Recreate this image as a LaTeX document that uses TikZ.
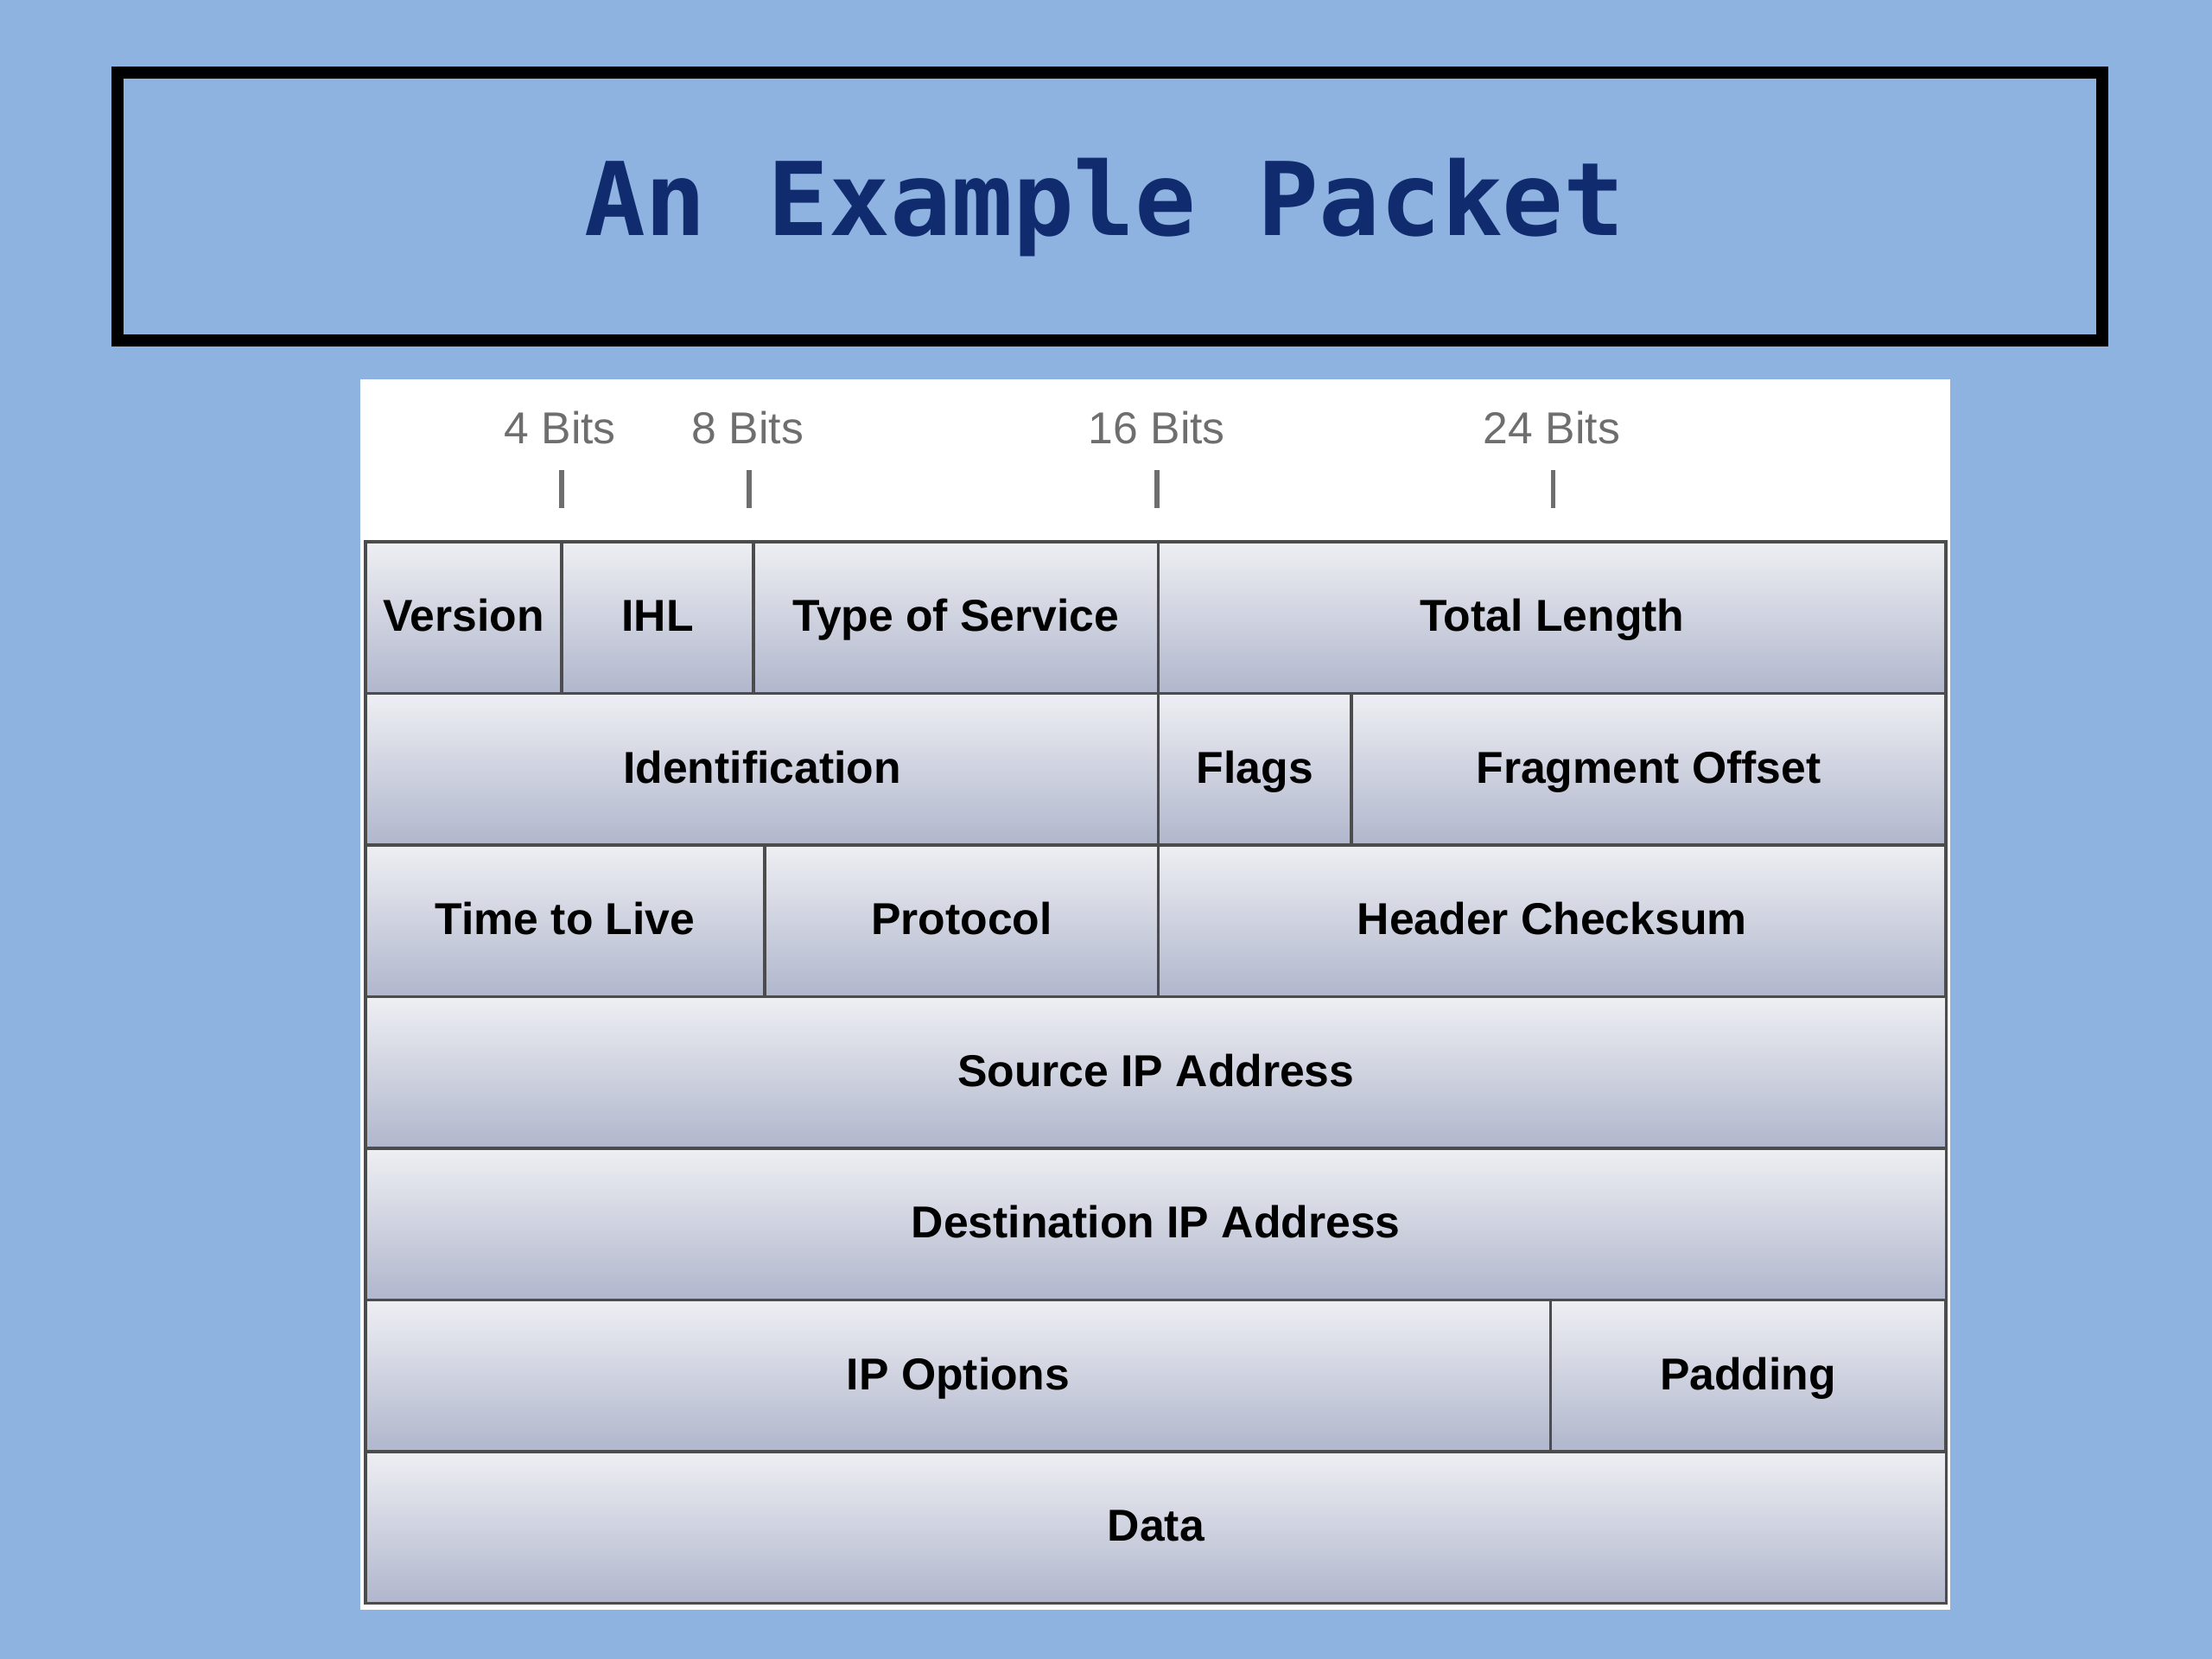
\documentclass[tikz,border=0pt]{standalone}
\usepackage{fontspec}
\setsansfont{Liberation Sans}
\setmonofont{DejaVu Sans Mono}
\usetikzlibrary{positioning}
\definecolor{slideblue}{RGB}{142,179,225}
\definecolor{titleblue}{RGB}{16,44,110}
\definecolor{celltop}{RGB}{238,239,243}
\definecolor{cellbot}{RGB}{176,182,204}
\definecolor{bitgray}{RGB}{110,110,110}
\tikzset{
  field/.style={draw=black!70, line width=0.6pt, anchor=north west, inner sep=0pt,
    top color=celltop, bottom color=cellbot, minimum height=1.075cm,
    text height=1.6ex, text depth=0.3ex,
    font=\sffamily\bfseries\fontsize{9}{11}\selectfont},
  bitlabel/.style={text=bitgray, font=\sffamily\fontsize{9}{11}\selectfont},
  tick/.style={draw=bitgray, line width=1pt}
}
\begin{document}
\begin{tikzpicture}[x=0.01cm,y=-0.01cm]
  \fill[slideblue] (0,0) rectangle (1568,1176);
  \useasboundingbox (0,0) rectangle (1568,1176);
  % title
  \node (titlebox) [draw=black, line width=2.5pt, minimum width=14.06cm, minimum height=1.9cm,
    anchor=north west] at (79,47) {};
  \node (title) [text=titleblue, font=\ttfamily\bfseries\fontsize{20.5}{24}\selectfont]
    at (783,147) {An Example Packet};
  % panel
  \node (panel) [fill=white, minimum width=11.26cm, minimum height=8.72cm, anchor=north west,
    inner sep=0pt] at (255,268) {};
  % bit markers
  \node (b4) [bitlabel] at (397,303) {4 Bits};
  \node (b8) [bitlabel] at (530,303) {8 Bits};
  \node (b16) [bitlabel] at (820,303) {16 Bits};
  \node (b24) [bitlabel] at (1100,303) {24 Bits};
  \foreach \x in {398,531,820,1101}
    \draw[tick] (\x,333) -- (\x,360);
  % row 1
  \node (ver) [field, minimum width=1.39cm] at (258,383) {Version};
  \node (ihl) [field, minimum width=1.36cm] at (397,383) {IHL};
  \node (tos) [field, minimum width=2.87cm] at (533,383) {Type of Service};
  \node (len) [field, minimum width=5.58cm] at (820,383) {Total Length};
  % row 2
  \node (ident) [field, minimum width=5.62cm] at (258,490.5) {Identification};
  \node (flags) [field, minimum width=1.37cm] at (820,490.5) {Flags};
  \node (frag) [field, minimum width=4.21cm] at (957,490.5) {Fragment Offset};
  % row 3
  \node (ttl) [field, minimum width=2.83cm] at (258,598) {Time to Live};
  \node (proto) [field, minimum width=2.79cm] at (541,598) {Protocol};
  \node (chk) [field, minimum width=5.58cm] at (820,598) {Header Checksum};
  % rows 4 to 7
  \node (src) [field, minimum width=11.2cm] at (258,705.5) {Source IP Address};
  \node (dst) [field, minimum width=11.2cm] at (258,813) {Destination IP Address};
  \node (opts) [field, minimum width=8.4cm] at (258,920.5) {IP Options};
  \node (pad) [field, minimum width=2.8cm] at (1098,920.5) {Padding};
  \node (data) [field, minimum width=11.2cm] at (258,1028) {Data};
\end{tikzpicture}
\end{document}
